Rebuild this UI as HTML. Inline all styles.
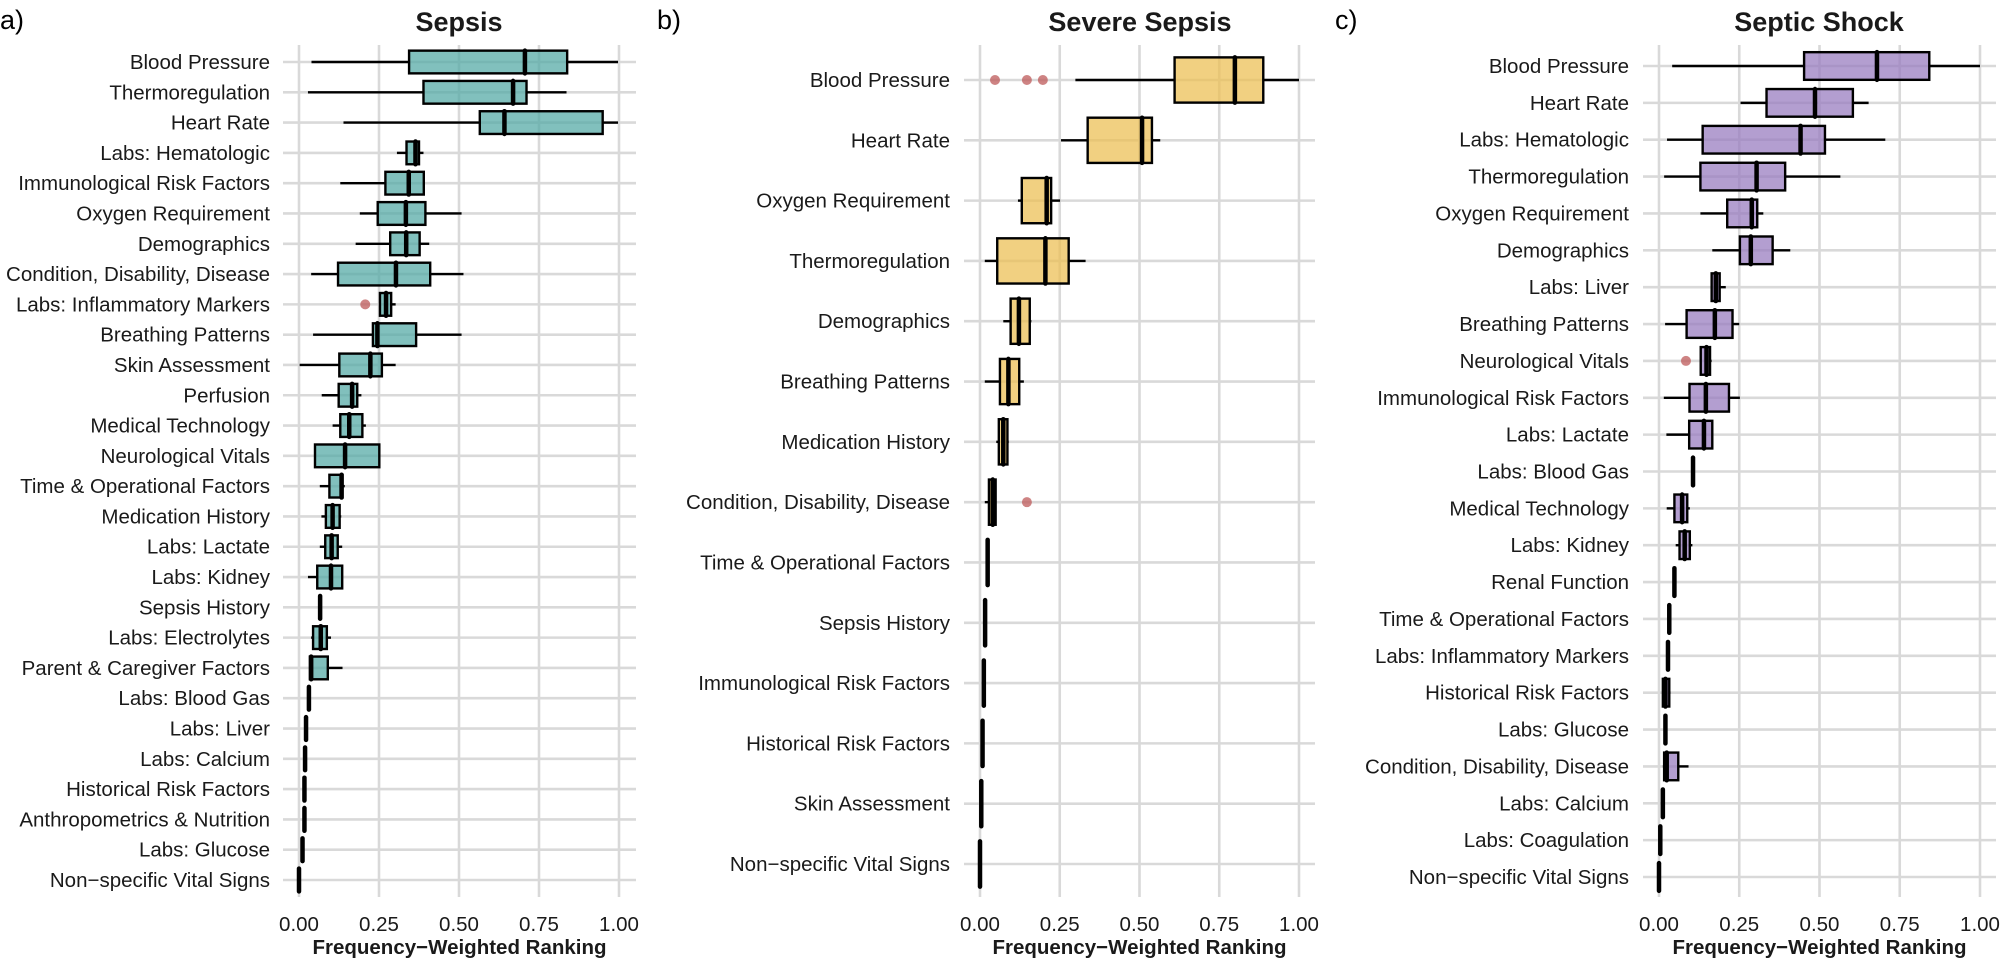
<!DOCTYPE html>
<html><head><meta charset="utf-8"><style>
html,body{margin:0;padding:0;background:#fff;}
svg{display:block;font-family:"Liberation Sans",Arial,sans-serif;}
</style></head><body>
<svg id="chart" width="2000" height="959" viewBox="0 0 2000 959" xmlns="http://www.w3.org/2000/svg"></svg>
<script>
// ---- Panel a: Sepsis ----
const catsA = ["Blood Pressure","Thermoregulation","Heart Rate","Labs: Hematologic","Immunological Risk Factors","Oxygen Requirement","Demographics","Condition, Disability, Disease","Labs: Inflammatory Markers","Breathing Patterns","Skin Assessment","Perfusion","Medical Technology","Neurological Vitals","Time & Operational Factors","Medication History","Labs: Lactate","Labs: Kidney","Sepsis History","Labs: Electrolytes","Parent & Caregiver Factors","Labs: Blood Gas","Labs: Liver","Labs: Calcium","Historical Risk Factors","Anthropometrics & Nutrition","Labs: Glucose","Non\u2212specific Vital Signs"];
const loA  = [.039,.028,.139,.306,.129,.19,.177,.038,.253,.044,.002,.071,.105,.05,.065,.07,.065,.028,.066,.038,.034,.031,.022,.019,.017,.017,.011,0];
const q1A  = [.344,.389,.565,.336,.27,.246,.285,.122,.253,.231,.126,.124,.129,.05,.095,.084,.082,.057,.066,.044,.034,.031,.022,.019,.017,.017,.011,0];
const medA = [.706,.669,.642,.364,.343,.334,.335,.303,.272,.245,.223,.166,.157,.144,.133,.105,.102,.1,.066,.068,.038,.031,.022,.019,.017,.017,.011,0];
const q3A  = [.838,.711,.949,.375,.39,.395,.377,.41,.288,.366,.259,.182,.198,.251,.136,.127,.121,.135,.066,.087,.09,.031,.022,.019,.017,.017,.011,0];
const hiA  = [.997,.836,.997,.389,.39,.508,.407,.514,.302,.508,.302,.195,.209,.251,.143,.132,.135,.135,.066,.1,.136,.031,.022,.019,.017,.017,.011,0];
const outA = [[],[],[],[],[],[],[],[],[.207],[],[],[],[],[],[],[],[],[],[],[],[],[],[],[],[],[],[],[]];
// ---- Panel b: Severe Sepsis ----
const catsB = ["Blood Pressure","Heart Rate","Oxygen Requirement","Thermoregulation","Demographics","Breathing Patterns","Medication History","Condition, Disability, Disease","Time & Operational Factors","Sepsis History","Immunological Risk Factors","Historical Risk Factors","Skin Assessment","Non\u2212specific Vital Signs"];
const loB  = [.299,.254,.119,.015,.073,.015,.051,.015,.024,.016,.012,.008,.004,0];
const q1B  = [.61,.3375,.131,.054,.096,.0625,.059,.028,.024,.016,.012,.008,.004,0];
const medB = [.799,.508,.209,.205,.122,.089,.073,.04,.024,.016,.012,.008,.004,0];
const q3B  = [.888,.539,.223,.278,.156,.123,.086,.049,.024,.016,.012,.008,.004,0];
const hiB  = [1.0,.565,.251,.331,.161,.1375,.09,.049,.024,.016,.012,.008,.004,0];
const outB = [[.047,.147,.197],[],[],[],[],[],[],[.147],[],[],[],[],[],[]];
// ---- Panel c: Septic Shock ----
const catsC = ["Blood Pressure","Heart Rate","Labs: Hematologic","Thermoregulation","Oxygen Requirement","Demographics","Labs: Liver","Breathing Patterns","Neurological Vitals","Immunological Risk Factors","Labs: Lactate","Labs: Blood Gas","Medical Technology","Labs: Kidney","Renal Function","Time & Operational Factors","Labs: Inflammatory Markers","Historical Risk Factors","Labs: Glucose","Condition, Disability, Disease","Labs: Calcium","Labs: Coagulation","Non\u2212specific Vital Signs"];
const loC  = [.041,.254,.025,.016,.129,.166,.164,.019,.13,.015,.023,.106,.024,.052,.048,.032,.028,.012,.02,.012,.012,.004,0];
const q1C  = [.452,.335,.136,.129,.2125,.252,.164,.086,.13,.095,.094,.106,.048,.064,.048,.032,.028,.012,.02,.016,.012,.004,0];
const medC = [.679,.486,.441,.304,.289,.286,.177,.174,.148,.146,.14,.106,.072,.08,.048,.032,.028,.02,.02,.024,.012,.004,0];
const q3C  = [.842,.604,.517,.393,.306,.354,.189,.229,.159,.218,.166,.106,.088,.096,.048,.032,.028,.032,.02,.06,.012,.004,0];
const hiC  = [1.0,.653,.705,.565,.325,.409,.208,.25,.164,.252,.166,.106,.096,.104,.048,.032,.028,.036,.02,.092,.012,.004,0];
const outC = [[],[],[],[],[],[],[],[],[.084],[],[],[],[],[],[],[],[],[],[],[],[],[],[]];
const xTicks = [0,0.25,0.5,0.75,1];
const xTickLabels = ["0.00","0.25","0.50","0.75","1.00"];

const svg = document.getElementById('chart');
const NS = 'http://www.w3.org/2000/svg';
function mk(tag, attrs, parent){const e=document.createElementNS(NS,tag);for(const k in attrs)e.setAttribute(k,attrs[k]);(parent||svg).appendChild(e);return e;}

const panels = [
 {key:'a',letter:'a)',title:'Sepsis',cats:catsA,lo:loA,q1:q1A,med:medA,q3:q3A,hi:hiA,out:outA,x0:299,x1:619,left:283,right:636,yFirst:62,yLast:880,labelRight:270,fill:'rgba(80,168,164,0.72)',letterX:0,titleX:459},
 {key:'b',letter:'b)',title:'Severe Sepsis',cats:catsB,lo:loB,q1:q1B,med:medB,q3:q3B,hi:hiB,out:outB,x0:980,x1:1299,left:964,right:1315,yFirst:80,yLast:864,labelRight:950,fill:'rgba(236,190,80,0.72)',letterX:657,titleX:1140},
 {key:'c',letter:'c)',title:'Septic Shock',cats:catsC,lo:loC,q1:q1C,med:medC,q3:q3C,hi:hiC,out:outC,x0:1659,x1:1980,left:1643,right:1996,yFirst:66,yLast:877,labelRight:1629,fill:'rgba(150,120,190,0.72)',letterX:1335,titleX:1819}
];
const TOP=45, BOT=897;

panels.forEach(p=>{
  const g = mk('g',{});
  
  
  const n = p.cats.length;
  const step = (p.yLast-p.yFirst)/(n-1);
  const xs = v => p.x0 + v*(p.x1-p.x0);
  const ys = i => p.yFirst + i*step;
  const bh = step*0.75;
  xTicks.forEach((t,i)=>{
    const l = mk('line',{x1:xs(t),x2:xs(t),y1:TOP,y2:BOT,stroke:'#d9d9d9','stroke-width':2.6},g);
    
    
    const tl = mk('text',{x:xs(t),y:931,'text-anchor':'middle','font-size':20.5,fill:'#1a1a1a'},g);
    tl.textContent = xTickLabels[i];
    
    
  });
  p.cats.forEach((c,i)=>{
    const l = mk('line',{x1:p.left,x2:p.right,y1:ys(i),y2:ys(i),stroke:'#d9d9d9','stroke-width':2.6},g);
    
    
    const t = mk('text',{x:p.labelRight,y:ys(i)+7,'text-anchor':'end','font-size':20.5,fill:'#1a1a1a'},g);
    t.textContent = c;
    
    
  });
  p.cats.forEach((c,i)=>{
    const bg = mk('g',{},g);
    
    
    const y=ys(i);
    const w1 = mk('line',{x1:xs(p.lo[i]),x2:xs(p.q1[i]),y1:y,y2:y,stroke:'#000','stroke-width':2.4},bg);
    
    
    const w2 = mk('line',{x1:xs(p.q3[i]),x2:xs(p.hi[i]),y1:y,y2:y,stroke:'#000','stroke-width':2.4},bg);
    
    
    const r = mk('rect',{x:xs(p.q1[i]),y:y-bh/2,width:Math.max(0,xs(p.q3[i])-xs(p.q1[i])),height:bh,fill:p.fill,stroke:'#000','stroke-width':2.4},bg);
    
    
    const m = mk('line',{x1:xs(p.med[i]),x2:xs(p.med[i]),y1:y-bh/2,y2:y+bh/2,stroke:'#000','stroke-width':4.5,'stroke-linecap':'round'},bg);
    
    
    p.out[i].forEach(o=>{
      const d = mk('circle',{cx:xs(o),cy:y,r:5,fill:'rgba(190,90,90,0.75)'},bg);
      
      
    });
  });
  const ttl = mk('text',{x:p.titleX,y:31,'text-anchor':'middle','font-size':27,'font-weight':'bold',fill:'#1a1a1a'},g);
  ttl.textContent = p.title;
  
  
  const let_ = mk('text',{x:p.letterX,y:29,'font-size':27,fill:'#000'},g);
  let_.textContent = p.letter;
  
  
  const at = mk('text',{x:(p.left+p.right)/2,y:954,'text-anchor':'middle','font-size':20.5,'font-weight':'bold',fill:'#1a1a1a'},g);
  at.textContent = 'Frequency\u2212Weighted Ranking';
  
  
});
</script>
</body></html>
